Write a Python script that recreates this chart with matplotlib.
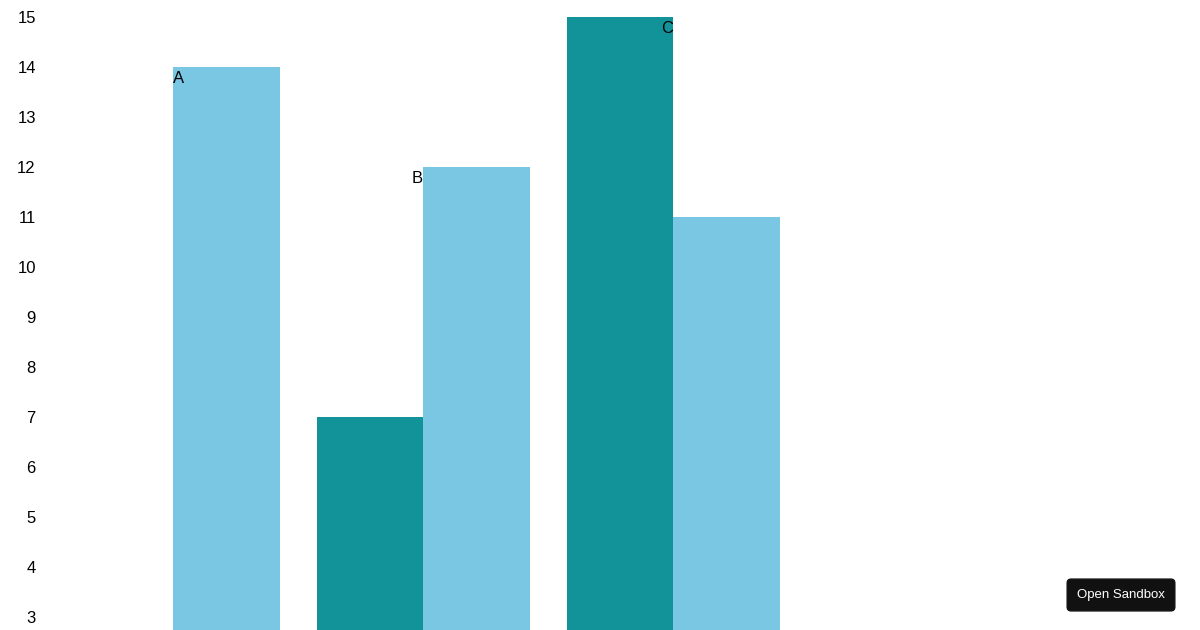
import matplotlib.pyplot as plt
import numpy as np

plt.rcParams['font.family'] = ['Liberation Sans', 'DejaVu Sans']

# --- datos ---
grupos = ['A', 'B', 'C']
serie_oscura = [2, 7, 15]   # A queda por debajo del eje visible
serie_clara = [14, 12, 11]
yticks = list(range(3, 16))

c_oscuro = '#12939A'
c_claro = '#79C7E3'

fig = plt.figure(figsize=(12, 6.3), dpi=100)
ax = fig.add_axes([40/1200, 0, 1 - 40/1200, 1])

x = np.arange(len(grupos))
ancho = 0.426
ax.bar(x - ancho/2, serie_oscura, width=ancho, color=c_oscuro, bottom=0)
ax.bar(x + ancho/2, serie_clara, width=ancho, color=c_claro, bottom=0)

# etiquetas de grupo en el borde entre barras, arriba del maximo
for i, g in enumerate(grupos):
    top = max(serie_oscura[i], serie_clara[i])
    ha = 'left' if i == 0 else 'right'
    ax.text(x[i], top - 0.08, g, ha=ha, va='top', fontsize=12)

ax.set_xlim((40 - 173) / 250, (1200 - 173) / 250)
ax.set_ylim(15 - 613/50, 15 + 17/50)
ax.set_yticks(yticks)
ax.set_xticks([])
ax.tick_params(axis='y', length=0, pad=3, labelsize=12)
for s in ax.spines.values():
    s.set_visible(False)

# boton del sandbox
fig.text(1121/1200, 1 - 595/630, 'Open Sandbox', color='white', fontsize=9.5,
         ha='center', va='center',
         bbox=dict(boxstyle='round,pad=0.75,rounding_size=0.3', fc='#111111', ec='#111111'))

fig.savefig('out.png', dpi=100)
